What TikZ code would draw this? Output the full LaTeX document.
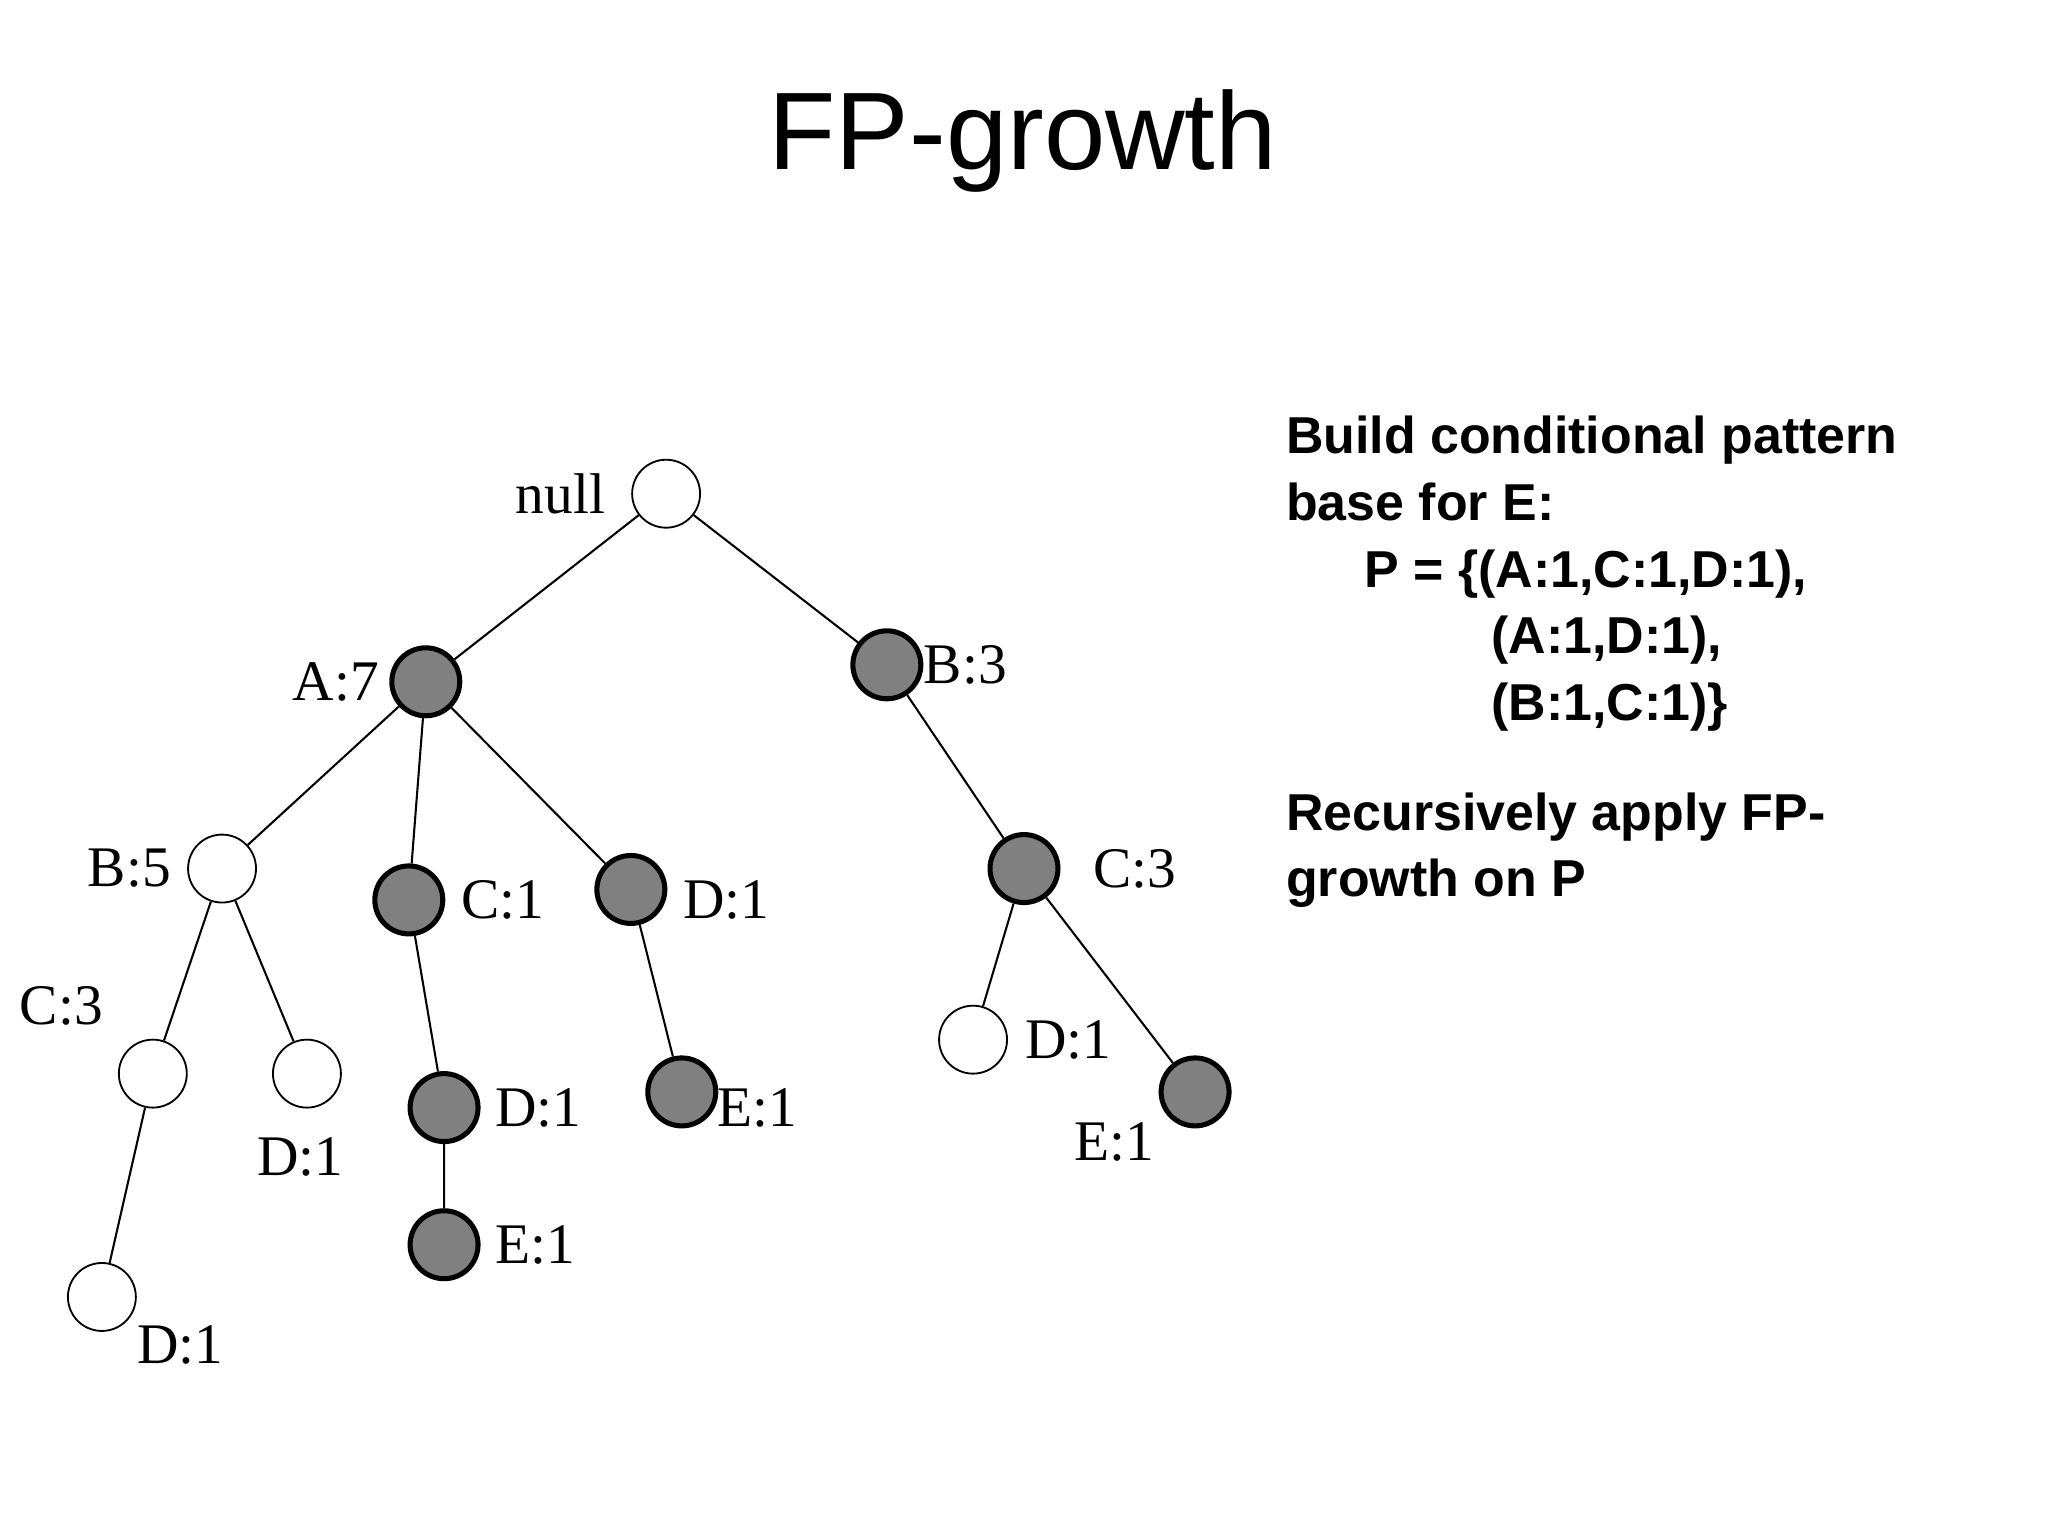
\documentclass[tikz,border=0pt]{standalone}
\usepackage{fontspec}
\setmainfont{Liberation Serif}
\setsansfont{Liberation Sans}
\begin{document}
\begin{tikzpicture}[x=0.01cm,y=-0.01cm,
  wn/.style={circle,draw,line width=0.4pt,fill=white,minimum size=0.52cm,inner sep=0pt},
  gn/.style={circle,draw,line width=1.1pt,fill=black!50,minimum size=0.52cm,inner sep=0pt},
  lb/.style={font=\fontsize{12.5}{14}\selectfont,inner sep=0pt},
  ed/.style={line width=0.45pt}]
\useasboundingbox (0,0) rectangle (1568,1176);
\node[font=\sffamily\fontsize{24}{28}\selectfont] (title) at (783,108) {FP-growth};
\node[wn] (n) at (510,378) {};
\node[gn] (a7) at (326,522) {};
\node[gn] (b3) at (679,509) {};
\node[wn] (b5) at (170,665) {};
\node[gn] (c1) at (313,689) {};
\node[gn] (d1a) at (483,681) {};
\node[gn] (c3r) at (784,665) {};
\node[wn] (c3l) at (117,822) {};
\node[wn] (d1b) at (235,822) {};
\node[wn] (d1c) at (78,993) {};
\node[gn] (d1d) at (340,848) {};
\node[gn] (e1a) at (340,953) {};
\node[gn] (e1b) at (522,836) {};
\node[wn] (d1e) at (745,796) {};
\node[gn] (e1c) at (915,836) {};
\draw[ed] (n)--(a7) (n)--(b3) (a7)--(b5) (a7)--(c1) (a7)--(d1a) (b3)--(c3r)
 (b5)--(c3l) (b5)--(d1b) (c3l)--(d1c) (c1)--(d1d) (d1d)--(e1a) (d1a)--(e1b)
 (c3r)--(d1e) (c3r)--(e1c);
\node[lb] (ln) at (429,378) {null};
\node[lb] (la7) at (257,522) {A:7};
\node[lb] (lb3) at (739,509) {B:3};
\node[lb] (lb5) at (99,665) {B:5};
\node[lb] (lc1) at (385,689) {C:1};
\node[lb] (ld1a) at (556,689) {D:1};
\node[lb] (lc3r) at (869,665) {C:3};
\node[lb] (lc3l) at (47,770) {C:3};
\node[lb] (ld1b) at (230,886) {D:1};
\node[lb] (ld1c) at (138,1030) {D:1};
\node[lb] (ld1d) at (412,848) {D:1};
\node[lb] (le1a) at (410,953) {E:1};
\node[lb] (le1b) at (580,848) {E:1};
\node[lb] (ld1e) at (818,796) {D:1};
\node[lb] (le1c) at (853,874) {E:1};
\node[anchor=north west,align=left,inner sep=0pt,font=\sffamily\bfseries\fontsize{11.3}{14.5}\selectfont] (txt) at (984,318)
{Build conditional pattern\\base for E:\\\hspace*{0.6cm}P = \{(A:1,C:1,D:1),\\\hspace*{1.57cm}(A:1,D:1),\\\hspace*{1.57cm}(B:1,C:1)\}};
\node[anchor=north west,align=left,inner sep=0pt,font=\sffamily\bfseries\fontsize{11.3}{14.5}\selectfont] (txt2) at (984,606)
{Recursively apply FP-\\growth on P};
\end{tikzpicture}
\end{document}
